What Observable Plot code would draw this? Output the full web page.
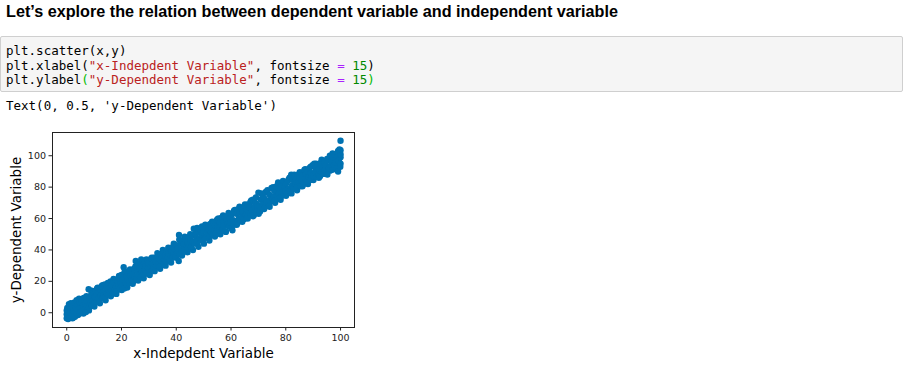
<!DOCTYPE html>
<html>
<head>
<meta charset="utf-8">
<script src="https://cdn.jsdelivr.net/npm/d3@7"></script>
<script src="https://cdn.jsdelivr.net/npm/@observablehq/plot@0.6"></script>
<style>
  html, body { margin: 0; padding: 0; background: #fff; width: 911px; height: 367px; overflow: hidden; position: relative; }
  #title { position: absolute; left: 6px; top: 2px; font: bold 16.2px "Liberation Sans", Arial, sans-serif; color: #000; white-space: nowrap; }
  #code { position: absolute; left: 0px; top: 36px; width: 901px; height: 54px; background: #f5f5f5; border: 1px solid #cfcfcf; border-radius: 2px; }
  .mono { font-family: "DejaVu Sans Mono", "Liberation Mono", monospace; font-size: 12.5px; white-space: pre; color: #000; }
  .line { position: absolute; left: 5px; height: 14px; line-height: 14px; }
  #out { position: absolute; left: 6px; top: 99px; height: 14px; line-height: 14px; }
  .s { color: #ba2121; } .n { color: #008800; } .o { color: #aa22ff; } .b { color: #00bb00; }
  #chart { position: absolute; left: 0px; top: 120px; }
</style>
</head>
<body>
<div id="title"></div>
<div id="code"></div>
<div id="out" class="mono"></div>
<div id="chart"></div>
<script>
const titleText = "Let’s explore the relation between dependent variable and independent variable";
const codeLines = [
  'plt.scatter(x,y)',
  'plt.xlabel(<span class="s">"x-Indepdent Variable"</span>, fontsize <span class="o">=</span> <span class="n">15</span>)',
  'plt.ylabel<span class="b">(</span><span class="s">"y-Dependent Variable"</span>, fontsize <span class="o">=</span> <span class="n">15</span><span class="b">)</span>'
];
const outputText = "Text(0, 0.5, 'y-Dependent Variable')";
const xLabel = "x-Indepdent Variable";
const yLabel = "y-Dependent Variable";
const xTicks = [0, 20, 40, 60, 80, 100];
const yTicks = [0, 20, 40, 60, 80, 100];

const points = [
[0,-3.5],[0,-1],[0,1.5],[0.2,3],[0.3,-2.5],[0.4,0.5],[0.5,-4],[0.6,2],[0.8,5.5],[0.9,-1.5],[1,3.5],[1.1,-3],[1.3,0],[1.5,6],[1.6,-2],[1.8,2.5],[2,-0.5],[2.2,4],[2.4,-3],[2.6,1],[2.8,6.5],[3,-2.5],[3.2,3],[3.4,0.5],[3.6,8],[3.8,-1],[4,5],[4.2,2],[4.5,9],[4.7,-0.5],[4.9,6],[5.1,3],[5.3,0.5],[5.5,7.5],[5.8,1.5],[6,4.5],[6.2,9.5],[6.5,2],[6.7,6],[7,0.5],[7.2,10.5],[7.5,4],[7.7,7.5],[8,15],[8.2,3.5],[8.4,9],[8.7,6],[9,12],[9.2,4.5],[9.5,8],[9.8,13],[10,6],
[10.3,10],[10.5,14],[10.8,7],[11,11.5],[11.3,16],[11.5,9],[11.8,13],[12,8],[12.3,14.5],[12.5,11],[12.8,17],[13,9.5],[13.3,13],[13.6,11],[13.9,18],[14.1,10],[14.4,15.5],[14.7,12],[15,19],[15.2,11.5],[15.5,16],[15.8,13],[16,20],[16.3,14],[16.6,17.5],[16.9,12.5],[17.2,19.5],[17.5,15],[17.8,21],[18,16.5],[18.3,14],[18.6,20],[18.9,17],[19.2,22.5],[19.5,15.5],[19.8,19],[20,24],[20.2,17],[20.5,21],[20.8,29],[21,15.5],[21.2,26.5],[21.5,19.5],[21.8,23],
[22,18],[22.3,21.5],[22.6,25],[22.9,19],[23.2,23.5],[23.5,27],[23.8,21],[24,24.5],[24.3,20],[24.6,28],[24.9,23],[25.2,33],[25.5,21.5],[25.8,26.5],[26,30.5],[26.3,24],[26.6,28],[26.9,22.5],[27.2,34],[27.5,26],[27.8,30],[28,24.5],[28.3,32],[28.6,27.5],[28.9,30],[29.2,25],[29.5,33],[29.8,28.5],[30,31.5],[30.3,24],[30.6,29],[30.9,34.5],[31.2,27],[31.5,31],[31.8,29],
[32,35],[32.3,28.5],[32.6,32.5],[32.9,30],[33.2,36],[33.5,31],[33.8,34],[34,29.5],[34.3,37],[34.6,32],[34.9,35.5],[35.2,31],[35.5,38.5],[35.8,34],[36,36.5],[36.3,32.5],[36.6,39],[36.9,35],[37.2,37.5],[37.5,34],[37.8,41],[38,36.5],[38.3,39],[38.6,35],[38.9,42],[39.2,38],[39.5,40.5],[39.8,36],[40,43],[40.3,38.5],[40.6,41],[40.9,33],[41,49.5],[41.3,37.5],[41.6,44],[41.9,40],
[42.2,46],[42.5,41.5],[42.8,44],[43.1,39.5],[43.4,47],[43.7,42],[44,45.5],[44.3,41],[44.6,48],[44.9,43.5],[45.2,46],[45.5,42],[45.8,49],[46.1,45],[46.4,53.5],[46.7,44],[47,50],[47.3,46.5],[47.6,54],[47.9,45.5],[48.2,51],[48.5,47.5],[48.8,53],[49.1,46],[49.4,55],[49.7,49],[50,52.5],[50.3,47.5],[50.6,56],[50.9,48],[51.2,54],[51.5,50.5],
[51.8,53],[52.1,49],[52.4,56.5],[52.7,51.5],[53,55],[53.3,50],[53.6,57.5],[53.9,53],[54.2,55.5],[54.5,51],[54.8,59],[55.1,54],[55.4,60],[55.7,52.5],[56,57],[56.3,54.5],[56.6,60.5],[56.9,53],[57.2,58],[57.5,55.5],[57.8,61],[58.1,52],[58.4,59],[58.7,56.5],[59,62],[59.3,55],[59.6,60],[59.9,57.5],[60.2,62.5],[60.5,52.5],[60.8,59],
[61.1,56],[61.4,65.5],[61.7,58],[62,63],[62.3,57],[62.6,66],[62.9,60],[63.2,64],[63.5,59],[63.8,66.5],[64.1,61.5],[64.4,64],[64.7,59.5],[65,67.5],[65.3,62],[65.6,66],[65.9,61],[66.2,69],[66.5,63.5],[66.8,67],[67.1,62.5],[67.4,71.5],[67.7,65],[68,72],[68.3,62],[68.6,67.5],[68.9,70],[69.2,64],[69.5,69],[69.8,66],[70,76.5],[70.3,68],[70.6,64.5],
[70.9,72],[71.2,67],[71.5,75],[71.8,69.5],[72.1,73],[72.4,67.5],[72.7,77],[73,70],[73.3,78],[73.6,71.5],[73.9,68.5],[74.2,75],[74.5,71],[74.8,79.5],[75.1,72.5],[75.4,80],[75.7,74],[76,77.5],[76.3,72],[76.6,80.5],[76.9,74.5],[77.2,83],[77.5,76],[77.8,79],[78.1,73.5],[78.4,81],[78.7,77],[79,84],[79.3,75],[79.6,80],[79.9,77.5],
[80.2,82.5],[80.5,76],[80.8,84],[81.1,79],[81.4,86],[81.7,77.5],[82,88],[82.3,81],[82.6,84.5],[82.9,79.5],[83.2,87],[83.5,82],[83.8,85],[84.1,80],[84.4,88],[84.7,83.5],[85,86],[85.3,80.5],[85.6,89],[85.9,84],[86.2,87.5],[86.5,82],[86.8,91],[87.1,85],[87.4,88.5],[87.7,83.5],[88,90],[88.3,86],[88.6,92],[88.9,84.5],[89.2,89],[89.5,86.5],[89.8,94],
[90.1,87],[90.4,95],[90.7,89.5],[91,92],[91.3,86.5],[91.6,94],[91.9,88],[92.2,91.5],[92.5,87],[92.8,95.5],[93.1,90],[93.4,93],[93.7,88.5],[94,96],[94.3,91],[94.6,94],[94.9,89],[95.2,88],[95.5,97],[95.8,92],[96.1,100],[96.4,93.5],[96.7,96],[97,91],[97.3,99],[97.6,94],[97.9,101],[98.2,95.5],[98.5,92],[98.8,99],[99.1,90],[99.4,97],[99.7,102],[100,109.5],[100,103.5],[100,95],[100,99],[99.9,93],[100,101],[99.6,104]
];

const edgePoints = [
[1.2,4.5],[2.1,-3.5],[3.1,5.5],[4.1,-1.5],[5,8.5],[6.1,-0.5],[7.1,9],[8.1,1.5],[9.1,14],[10.1,4],[11.1,15.5],[12.1,6],[13.1,17.5],[14.2,8],[15.1,18.5],[16.1,10.5],[17.1,21.5],[18.1,12],[19.1,23.5],[20.1,14.5],[21.1,25],[22.1,16],[23.1,27.5],[24.1,18.5],[25.1,29.5],[26.1,20.5],[27.1,31.5],[28.1,22],[29.1,34],[30.1,24.5],[31.1,35],[32.1,26.5],[33.1,38],[34.1,28],[35.1,40],[36.1,30],[37.1,41.5],[38.1,32],[39.1,44],[40.1,35],[41.1,46.5],[42.1,36.5],[43.1,48.5],[44.1,38.5],[45.1,50],[46.1,40],[47.1,52],[48.1,42],[49.1,54],[50.1,44],
[51.1,55.5],[52.1,46],[53.1,58],[54.1,48.5],[55.1,59.5],[56.1,50],[57.1,62],[58.1,51.5],[59.1,63.5],[60.1,54],[61.1,65],[62.1,56],[63.1,67.5],[64.1,58],[65.1,69],[66.1,60],[67.1,70.5],[68.1,61.5],[69.1,73.5],[70.1,63],[71.1,76],[72.1,66],[73.1,76.5],[74.1,67.5],[75.1,79],[76.1,70],[77.1,81.5],[78.1,72],[79.1,83],[80.1,74.5],[81.1,85],[82.1,76],[83.1,88],[84.1,78],[85.1,89.5],[86.1,80.5],[87.1,91.5],[88.1,82],[89.1,93],[90.1,84.5],[91.1,95],[92.1,86],[93.1,97.5],[94.1,88.5],[95.1,98],[96.1,90.5],[97.1,101.5],[98.1,91.5],[99.1,103],[99.5,95]
];

document.getElementById("title").textContent = titleText;
const codeBox = document.getElementById("code");
codeLines.forEach((html, i) => {
  const div = document.createElement("div");
  div.className = "mono line";
  div.style.top = (7 + i * 14.5) + "px";
  div.innerHTML = html;
  codeBox.appendChild(div);
});
document.getElementById("out").textContent = outputText;

const chart = Plot.plot({
  width: 370,
  height: 247,
  marginLeft: 52,
  marginRight: 16,
  marginTop: 12,
  marginBottom: 40,
  style: { fontFamily: "DejaVu Sans", fontSize: "9.5px", color: "#222", background: "transparent" },
  x: { domain: [-5.2, 105.1] },
  y: { domain: [-9.4, 114.8] },
  marks: [
    Plot.dot(edgePoints, { x: d => d[0], y: d => d[1], r: 3.2, fill: "#0072b2", stroke: "none" }),
    Plot.dot(points, { x: d => d[0], y: d => d[1], r: 3.2, fill: "#0072b2", stroke: "none" }),
    Plot.frame({ stroke: "#222", strokeWidth: 1 }),
    Plot.axisX({ ticks: xTicks, tickSize: 3.5, tickPadding: 3, label: null, fontSize: 9.5 }),
    Plot.axisY({ ticks: yTicks, tickSize: 3.5, tickPadding: 3, label: null, fontSize: 9.5 }),
    Plot.text([xLabel], { text: d => d, frameAnchor: "bottom", textAnchor: "middle", lineAnchor: "middle", dy: 26, fontSize: 13.5, fill: "#000" }),
    Plot.text([yLabel], { text: d => d, frameAnchor: "left", textAnchor: "middle", lineAnchor: "middle", rotate: -90, dx: -36, fontSize: 13.5, fill: "#000" })
  ]
});
document.getElementById("chart").appendChild(chart);
</script>
</body>
</html>
